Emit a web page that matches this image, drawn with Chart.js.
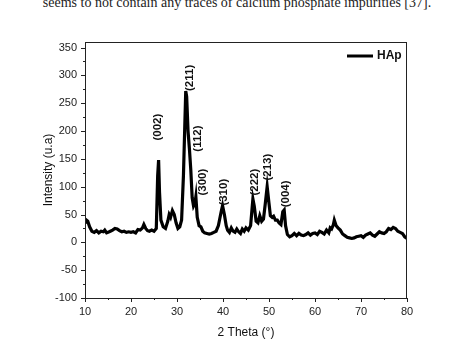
<!DOCTYPE html>
<html>
<head>
<meta charset="utf-8">
<script src="https://cdn.jsdelivr.net/npm/chart.js@4/dist/chart.umd.min.js"></script>
<style>
  body { margin: 0; background: #fff; }
  #wrap { position: relative; width: 474px; height: 360px; overflow: hidden; }
  #caption {
    position: absolute; left: 0; top: -4px; width: 474px; text-align: center;
    font-family: "Liberation Serif", "DejaVu Serif", serif; font-size: 14px; line-height: 14px; color: #222;
  }
  canvas { position: absolute; left: 0; top: 0; }
</style>
</head>
<body>
<div id="wrap">
  <div id="caption">seems to not contain any traces of calcium phosphate impurities [37].</div>
  <canvas id="xrd" width="474" height="360"></canvas>
</div>
<script>
// XRD pattern
const twoTheta = [10.0,10.3,10.6,11.0,11.5,12.0,12.5,13.0,13.5,14.0,14.3,14.7,15.0,15.5,16.0,16.5,17.0,17.5,18.0,18.5,
  19.0,19.5,20.0,20.5,21.0,21.5,22.0,22.5,22.8,23.2,23.6,24.0,24.5,25.0,25.5,25.8,26.0,26.2,26.5,27.0,
  27.5,28.0,28.3,28.6,29.0,29.4,29.8,30.2,30.6,31.0,31.4,31.9,32.1,32.4,32.7,33.0,33.3,33.6,33.9,34.1,
  34.4,34.8,35.2,35.6,36.0,36.5,37.0,37.5,38.0,38.5,39.0,39.6,39.9,40.3,40.7,41.0,41.4,41.8,42.2,42.6,
  43.0,43.4,43.8,44.2,44.6,45.0,45.5,46.0,46.5,46.8,47.2,47.6,48.0,48.4,48.8,49.2,49.6,50.0,50.3,50.7,
  51.0,51.4,51.8,52.2,52.6,53.0,53.3,53.6,54.0,54.5,55.0,55.5,56.0,56.5,57.0,57.5,58.0,58.5,59.0,59.5,
  60.0,60.5,61.0,61.5,62.0,62.5,63.0,63.3,63.6,64.0,64.2,64.6,65.0,65.5,66.0,66.5,67.0,67.5,68.0,68.5,
  69.0,69.5,70.0,70.5,71.0,71.5,72.0,72.5,73.0,73.5,74.0,74.5,75.0,75.5,76.0,76.5,77.0,77.5,78.0,78.5,
  79.0,79.5,80.0];
const intensity = [34,40,38,28,20,18,21,17,20,19,22,17,18,20,22,25,24,21,19,20,
  18,19,18,19,17,23,22,26,32,25,21,20,22,20,25,120,148,90,40,28,
  25,38,50,45,57,50,35,25,28,40,120,272,262,200,168,130,80,65,70,82,
  45,30,28,20,17,16,15,16,18,20,30,55,66,50,30,22,18,26,20,18,
  24,19,16,24,20,26,22,30,78,65,38,35,48,38,42,70,100,70,48,45,
  47,40,40,35,32,55,58,30,14,10,12,16,12,16,13,12,14,17,13,16,
  17,14,20,18,15,22,17,26,24,32,40,30,26,22,15,12,9,8,7,8,
  10,11,12,9,13,15,17,13,11,15,19,17,16,19,25,23,27,25,20,18,
  16,10,7];

// peak indexing labels (hkl), placed above each reflection
const peakNames  = ['(002)','(211)','(112)','(300)','(310)','(222)','(213)','(004)'];
const peakTheta  = [25.9, 32.8, 34.6, 35.6, 40.2, 47.0, 49.8, 53.7];
const peakLabelY = [183, 272, 163, 84, 66, 84, 111, 63];

const xTicks = [10,20,30,40,50,60,70,80];
const yTicks = [-100,-50,0,50,100,150,200,250,300,350];
const seriesName = 'HAp';

const tickFont = { family: 'Liberation Sans, Arial, sans-serif', size: 11 };

const extras = {
  id: 'extras',
  afterDraw(chart) {
    const ctx = chart.ctx;
    const xs = chart.scales.x, ys = chart.scales.y;
    const area = chart.chartArea;
    ctx.save();
    // frame
    ctx.strokeStyle = '#222';
    ctx.lineWidth = 1;
    ctx.strokeRect(area.left + 0.5, area.top + 0.5, area.right - area.left - 1, area.bottom - area.top);
    // major + minor ticks, outward
    ctx.beginPath();
    for (let v = 10; v <= 80; v += 5) {
      const px = Math.round(xs.getPixelForValue(v)) + 0.5;
      const len = v % 10 === 0 ? 4 : 2;
      ctx.moveTo(px, area.bottom); ctx.lineTo(px, area.bottom + len);
    }
    for (let v = -100; v <= 350; v += 25) {
      const py = Math.round(ys.getPixelForValue(v)) + 0.5;
      const len = v % 50 === 0 ? 4 : 2;
      ctx.moveTo(area.left, py); ctx.lineTo(area.left - len, py);
    }
    ctx.stroke();
    // hkl labels
    ctx.fillStyle = '#111';
    ctx.font = 'bold 11.5px "Liberation Sans", Arial, sans-serif';
    ctx.textAlign = 'left';
    ctx.textBaseline = 'middle';
    peakNames.forEach((name, i) => {
      const px = xs.getPixelForValue(peakTheta[i]);
      const py = ys.getPixelForValue(peakLabelY[i]);
      ctx.save();
      ctx.translate(px, py);
      ctx.rotate(-Math.PI / 2);
      ctx.fillText(name, 0, 0);
      ctx.restore();
    });
    // legend
    ctx.strokeStyle = '#000';
    ctx.lineWidth = 3;
    ctx.beginPath();
    ctx.moveTo(area.right - 60, area.top + 14);
    ctx.lineTo(area.right - 34, area.top + 14);
    ctx.stroke();
    ctx.font = 'bold 12px "Liberation Sans", Arial, sans-serif';
    ctx.fillText(seriesName, area.right - 30, area.top + 14);
    ctx.restore();
  }
};

new Chart(document.getElementById('xrd'), {
  type: 'line',
  data: {
    datasets: [{
      label: seriesName,
      data: twoTheta.map((t, i) => ({ x: t, y: intensity[i] })),
      borderColor: '#000',
      borderWidth: 3.2,
      pointRadius: 0,
      tension: 0,
      fill: false
    }]
  },
  options: {
    responsive: false,
    animation: false,
    layout: { padding: { top: 42, right: 67, left: 0, bottom: 0 } },
    plugins: { legend: { display: false }, tooltip: { enabled: false } },
    scales: {
      x: {
        type: 'linear', min: 10, max: 80,
        grid: { display: false, drawTicks: false },
        border: { display: false },
        afterBuildTicks: s => { s.ticks = xTicks.map(v => ({ value: v })); },
        afterFit: s => { s.height = 62; },
        ticks: { color: '#222', font: tickFont, padding: 7, maxRotation: 0 },
        title: { display: true, text: '2 Theta (°)', color: '#111',
          font: { family: 'Liberation Sans, Arial, sans-serif', size: 12 }, padding: { top: 0, bottom: 20 } }
      },
      y: {
        type: 'linear', min: -100, max: 360,
        grid: { display: false, drawTicks: false },
        border: { display: false },
        afterBuildTicks: s => { s.ticks = yTicks.map(v => ({ value: v })); },
        afterFit: s => { s.width = 85; },
        ticks: { color: '#222', font: tickFont, padding: 8 },
        title: { display: true, text: 'Intensity (u.a)', color: '#111',
          font: { family: 'Liberation Sans, Arial, sans-serif', size: 12 }, padding: { top: 41, bottom: 0 } }
      }
    }
  },
  plugins: [extras]
});
</script>
</body>
</html>
